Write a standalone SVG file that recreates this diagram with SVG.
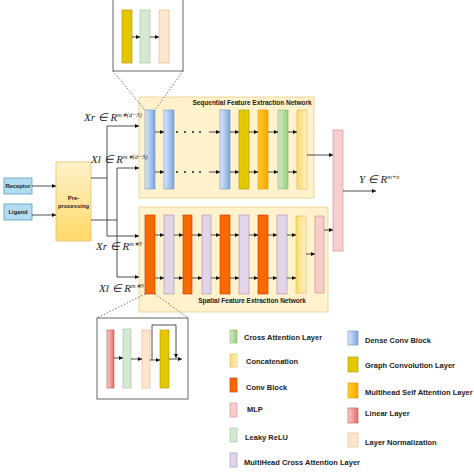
<svg xmlns="http://www.w3.org/2000/svg" width="474" height="474" viewBox="0 0 474 474">
<style>
.ln{fill:none;stroke:#222;stroke-width:0.8}
.ar{fill:none;stroke:#222;stroke-width:0.8;marker-end:url(#ah)}
.dot{fill:none;stroke:#444;stroke-width:0.9;stroke-dasharray:1.2 2}
.box{fill:#fff2cc;stroke:#e6cf8a;stroke-width:0.8}
.title{font-family:"Liberation Sans",Arial,sans-serif;font-weight:bold;font-size:6.5px;fill:#222;text-anchor:middle}
.lbl{font-family:"Liberation Sans",Arial,sans-serif;font-weight:bold;font-size:7.5px;fill:#222}
.small{font-family:"Liberation Sans",Arial,sans-serif;font-weight:bold;font-size:5.8px;fill:#222;text-anchor:middle}
.math{font-family:"Liberation Serif","Times New Roman",serif;font-style:italic;font-size:11px;fill:#222}
.sup{font-size:6.3px}
.dense{fill:url(#gBlue);stroke:#6c8ebf;stroke-width:0.6}
.graph{fill:#e3c800;stroke:#b09500;stroke-width:0.6}
.mhsa{fill:url(#gOrange);stroke:#d79b00;stroke-width:0.6}
.cross{fill:url(#gGreen);stroke:#82b366;stroke-width:0.6}
.concat{fill:url(#gConcat);stroke:#d6b656;stroke-width:0.6}
.conv{fill:#fa6800;stroke:#c73500;stroke-width:0.6}
.mlp{fill:#f8cecc;stroke:#c98a88;stroke-width:0.6}
.relu{fill:#d5e8d4;stroke:#9cc49a;stroke-width:0.6}
.mhca{fill:#e1d5e7;stroke:#a58cb3;stroke-width:0.6}
.linear{fill:url(#gRed);stroke:#b85450;stroke-width:0.6}
.norm{fill:#ffe6cc;stroke:#e0b27a;stroke-width:0.6}
.inset{fill:#fff;stroke:#666;stroke-width:1}
.inp{fill:#b1ddf0;stroke:#5a9fc0;stroke-width:0.8}
</style>
<defs>
<marker id="ah" viewBox="0 0 6 6" refX="6" refY="3" markerWidth="4" markerHeight="4" markerUnits="userSpaceOnUse" orient="auto"><path d="M0,0 L6,3 L0,6 z" fill="#111"/></marker>
<linearGradient id="gBlue" x1="0" y1="0" x2="1" y2="0"><stop offset="0" stop-color="#dae8fc"/><stop offset="1" stop-color="#7ea6e0"/></linearGradient>
<linearGradient id="gOrange" x1="0" y1="0" x2="1" y2="0"><stop offset="0" stop-color="#ffcd28"/><stop offset="1" stop-color="#ffa500"/></linearGradient>
<linearGradient id="gGreen" x1="0" y1="0" x2="1" y2="0"><stop offset="0" stop-color="#d5e8d4"/><stop offset="1" stop-color="#97d077"/></linearGradient>
<linearGradient id="gConcat" x1="0" y1="0" x2="1" y2="0"><stop offset="0" stop-color="#ffd966"/><stop offset="1" stop-color="#fff2cc"/></linearGradient>
<linearGradient id="gRed" x1="0" y1="0" x2="1" y2="0"><stop offset="0" stop-color="#f8cecc"/><stop offset="1" stop-color="#ea6b66"/></linearGradient>
<linearGradient id="gPre" x1="0" y1="0" x2="0" y2="1"><stop offset="0" stop-color="#fff2cc"/><stop offset="1" stop-color="#ffd966"/></linearGradient>
</defs>
<rect width="474" height="474" fill="#fff"/>

<!-- top inset -->
<g id="inset-top">
<rect class="inset" x="113" y="-3" width="70" height="74"/>
<rect class="graph" x="122" y="10" width="10" height="53"/>
<rect class="relu" x="140" y="10" width="10" height="53"/>
<rect class="norm" x="159" y="10" width="10" height="53"/>
<path class="ar" d="M132,37 H140"/>
<path class="ar" d="M150,37 H159"/>
</g>

<!-- sequential box -->
<g id="seq-net">
<rect class="box" x="139" y="97" width="175" height="101"/>
<text class="title" x="252" y="104.5">Sequential Feature Extraction Network</text>
</g>
<g id="seq-dense1"><rect class="dense" x="145" y="110" width="10" height="79"/></g>
<g id="seq-dense2"><rect class="dense" x="164" y="110" width="10" height="79"/></g>
<g id="seq-dense3"><rect class="dense" x="220" y="110" width="10" height="79"/></g>
<g id="seq-graph"><rect class="graph" x="239" y="110" width="10" height="79"/></g>
<g id="seq-mhsa"><rect class="mhsa" x="258" y="110" width="10" height="79"/></g>
<g id="seq-cross"><rect class="cross" x="278" y="110" width="10" height="79"/></g>
<g id="seq-concat"><rect class="concat" x="297" y="110" width="10" height="79"/></g>

<!-- spatial box -->
<g id="spa-net">
<rect class="box" x="139" y="207" width="189" height="105"/>
<text class="title" x="252" y="302.5">Spatial Feature Extraction Network</text>
</g>
<g id="spa-conv1"><rect class="conv" x="145" y="215" width="10" height="79"/></g>
<g id="spa-mhca1"><rect class="mhca" x="164" y="215" width="10" height="79"/></g>
<g id="spa-conv2"><rect class="conv" x="183" y="215" width="9" height="79"/></g>
<g id="spa-mhca2"><rect class="mhca" x="202" y="215" width="9" height="79"/></g>
<g id="spa-conv3"><rect class="conv" x="220" y="215" width="10" height="79"/></g>
<g id="spa-mhca3"><rect class="mhca" x="239" y="215" width="10" height="79"/></g>
<g id="spa-conv4"><rect class="conv" x="258" y="215" width="10" height="79"/></g>
<g id="spa-mhca4"><rect class="mhca" x="277" y="215" width="10" height="79"/></g>
<g id="spa-concat"><rect class="concat" x="296" y="216" width="10" height="77"/></g>
<g id="spa-mlp"><rect class="mlp" x="315" y="216" width="9" height="77"/></g>

<!-- final MLP -->
<g id="final-mlp"><rect class="mlp" x="333" y="130" width="10" height="121"/></g>

<!-- inputs -->
<g id="receptor"><rect class="inp" x="4" y="178" width="28" height="16"/><text class="small" x="18" y="188">Receptor</text></g>
<g id="ligand"><rect class="inp" x="4" y="204" width="28" height="16"/><text class="small" x="18" y="214">Ligand</text></g>
<g id="preprocessing"><rect x="56" y="162" width="35" height="79" fill="url(#gPre)" stroke="#e0c070" stroke-width="0.8"/>
<text class="small" x="73.5" y="199.5">Pre-</text><text class="small" x="73.5" y="207.5">processing</text></g>

<!-- bottom inset -->
<g id="inset-bottom">
<rect class="inset" x="97" y="318" width="91" height="81"/>
<rect class="linear" x="107" y="330" width="7" height="58"/>
<rect class="relu" x="123" y="329" width="8" height="59"/>
<rect class="norm" x="142" y="330" width="8" height="58"/>
<rect class="graph" x="160" y="330" width="9" height="58"/>
<path class="ar" d="M114,358 H123"/>
<path class="ar" d="M131,359 H142"/>
<path class="ar" d="M150,360 H160"/>
<path class="ar" d="M169,359 H182"/>
<path class="ar" d="M152,360 V325 H176 V358"/>
</g>

<!-- connectors -->
<g id="connectors">
<path class="dot" d="M113,71 L145,110 M183,71 L155,110"/>
<path class="dot" d="M145,294 L97,318 M155,294 L188,318"/>
<path class="ar" d="M32,186 H56"/>
<path class="ar" d="M32,215 H56"/>
<path class="ar" d="M91,178 H107 V126 H139"/>
<path class="ar" d="M107,178 V236 H139"/>
<path class="ar" d="M91,220 H117 V168 H139"/>
<path class="ar" d="M117,220 V277 H139"/>
<!-- seq rows -->
<path class="ar" d="M155,132 H164"/><path class="ar" d="M155,172 H164"/>
<path class="ar" d="M209,132 H220"/><path class="ar" d="M209,172 H220"/>
<path class="ar" d="M230,132 H239"/><path class="ar" d="M230,172 H239"/>
<path class="ar" d="M249,132 H258"/><path class="ar" d="M249,172 H258"/>
<path class="ar" d="M268,132 H278"/><path class="ar" d="M268,172 H278"/>
<path class="ar" d="M288,132 H297"/><path class="ar" d="M288,172 H297"/>
<g fill="#222">
<circle cx="177" cy="132" r="1"/><circle cx="185" cy="132" r="1"/><circle cx="193" cy="132" r="1"/><circle cx="200" cy="132" r="1"/>
<circle cx="177" cy="172" r="1"/><circle cx="185" cy="172" r="1"/><circle cx="193" cy="172" r="1"/><circle cx="200" cy="172" r="1"/>
</g>
<!-- spatial rows -->
<path class="ar" d="M155,235 H164"/><path class="ar" d="M155,278 H164"/>
<path class="ar" d="M174,235 H183"/><path class="ar" d="M174,278 H183"/>
<path class="ar" d="M192,235 H202"/><path class="ar" d="M192,278 H202"/>
<path class="ar" d="M211,235 H220"/><path class="ar" d="M211,278 H220"/>
<path class="ar" d="M230,235 H239"/><path class="ar" d="M230,278 H239"/>
<path class="ar" d="M249,235 H258"/><path class="ar" d="M249,278 H258"/>
<path class="ar" d="M268,235 H277"/><path class="ar" d="M268,278 H277"/>
<path class="ar" d="M287,235 H296"/><path class="ar" d="M287,278 H296"/>
<path class="ar" d="M306,254 H315"/>
<path class="ar" d="M307,155 H333"/>
<path class="ar" d="M324,230 H333"/>
<path class="ar" d="M343,191 H376"/>
</g>

<!-- math labels -->
<text class="math" x="84" y="121">Xr ∈ R<tspan class="sup" dy="-4.5">m∗(d−3)</tspan></text>
<text class="math" x="91" y="163">Xl ∈ R<tspan class="sup" dy="-4.5">m∗(d−3)</tspan></text>
<text class="math" x="96" y="250">Xr ∈ R<tspan class="sup" dy="-4.5">m∗3</tspan></text>
<text class="math" x="99" y="292">Xl ∈ R<tspan class="sup" dy="-4.5">m∗3</tspan></text>
<text class="math" x="359" y="183">Y ∈ R<tspan class="sup" dy="-4.5">m+n</tspan></text>

<!-- legend -->
<g id="legend">
<rect class="cross" x="230" y="330" width="7" height="13"/><text class="lbl" x="244" y="340">Cross Attention Layer</text>
<rect class="concat" x="230" y="354" width="7" height="13"/><text class="lbl" x="246" y="364">Concatenation</text>
<rect class="conv" x="230" y="378" width="7" height="14"/><text class="lbl" x="246" y="390">Conv Block</text>
<rect class="mlp" x="230" y="403" width="7" height="14"/><text class="lbl" x="247" y="412">MLP</text>
<rect class="relu" x="230" y="428" width="7" height="14"/><text class="lbl" x="245" y="440">Leaky ReLU</text>
<rect class="mhca" x="230" y="453" width="7" height="14"/><text class="lbl" x="244" y="465">MultiHead Cross Attention Layer</text>
<rect class="dense" x="348" y="331" width="10" height="14"/><text class="lbl" x="365" y="343">Dense Conv Block</text>
<rect class="graph" x="348" y="357" width="10" height="15"/><text class="lbl" x="365" y="368">Graph Convolution Layer</text>
<rect class="mhsa" x="348" y="383" width="10" height="15"/><text class="lbl" x="365" y="395">Multihead Self Attention Layer</text>
<rect class="linear" x="348" y="408" width="10" height="15"/><text class="lbl" x="365" y="416">Linear Layer</text>
<rect class="norm" x="348" y="433" width="10" height="14"/><text class="lbl" x="365" y="445">Layer Normalization</text>
</g>
</svg>
